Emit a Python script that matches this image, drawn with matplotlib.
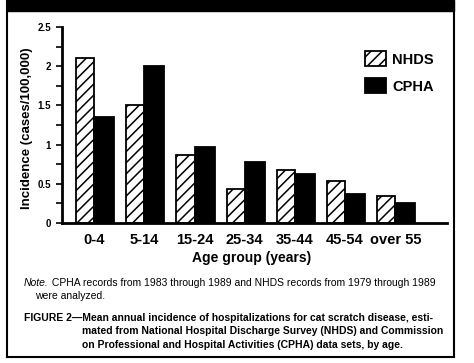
import numpy as np
import matplotlib
matplotlib.use('Agg')
import matplotlib.pyplot as plt
from matplotlib.patches import Rectangle
from matplotlib.lines import Line2D

################# DATOS ############################

grupos_edad = ['0-4', '5-14', '15-24', '25-34', '35-44', '45-54', 'over 55']
nhds = [2.10, 1.50, 0.87, 0.44, 0.67, 0.53, 0.34]
cpha = [1.35, 2.00, 0.97, 0.78, 0.63, 0.37, 0.25]
ticks_y = [0, 0.5, 1, 1.5, 2, 2.5]
etiquetas_y = ['0', '0.5', '1', '1.5', '2', '2.5']

plt.rcParams['font.family'] = ['Liberation Sans', 'DejaVu Sans']
plt.rcParams['hatch.linewidth'] = 1.1

W, H = 474, 363
fig = plt.figure(figsize=(W / 100, H / 100), dpi=100)

def fx(px):
    return px / W

def fy(py):
    return 1 - py / H

ax = fig.add_axes([fx(62), fy(223), fx(447) - fx(62), fy(27) - fy(223)])

x = np.arange(len(grupos_edad))
ax.bar(x, nhds, width=-0.36, align='edge', color='white', edgecolor='black',
       hatch='///', linewidth=1.3, label='NHDS')
ax.bar(x, cpha, width=0.40, align='edge', color='black', edgecolor='black',
       linewidth=1.3, label='CPHA')

ax.set_xlim(-0.64, 7.03)
ax.set_ylim(0, 2.5)
for s in ['top', 'right']:
    ax.spines[s].set_visible(False)
ax.spines['left'].set_linewidth(2)
ax.spines['bottom'].set_linewidth(2)

ax.set_xticks(x)
ax.set_xticklabels(grupos_edad, fontsize=10.5, fontweight='bold')
ax.tick_params(axis='x', length=0, pad=7)
ax.set_yticks(ticks_y)
ax.set_yticklabels(etiquetas_y, fontsize=7, fontweight='bold')
ax.set_yticks(np.arange(0.25, 2.5, 0.5), minor=True)
ax.tick_params(axis='y', which='both', direction='out', length=4, width=1.2, pad=4)

ax.set_ylabel('Incidence (cases/100,000)', fontsize=9.5, fontweight='bold')
ax.yaxis.set_label_coords(-0.075, 0.485)
fig.text(fx(252), fy(258), 'Age group (years)', fontsize=10, fontweight='bold',
         ha='center', va='center')

ley = fig.legend(loc='upper left', bbox_to_anchor=(fx(352), fy(38)), frameon=False,
                 prop={'weight': 'bold', 'size': 10.5}, handlelength=1.4,
                 handleheight=1.2, labelspacing=0.8, handletextpad=0.45)

# nota y leyenda de la figura
fig.canvas.draw()
t_nota = fig.text(fx(24), fy(283), 'Note.', fontsize=7.5, style='italic', va='center')
bb = t_nota.get_window_extent(fig.canvas.get_renderer())
fig.text(bb.x1 / W, fy(283),
         ' CPHA records from 1983 through 1989 and NHDS records from 1979 through 1989',
         fontsize=7.5, va='center')
fig.text(fx(35), fy(296), 'were analyzed.', fontsize=7.5, va='center')

fig.text(fx(24), fy(318),
         'FIGURE 2\u2014Mean annual incidence of hospitalizations for cat scratch disease, esti-',
         fontsize=7.5, fontweight='bold', va='center')
fig.text(fx(82), fy(331.5),
         'mated from National Hospital Discharge Survey (NHDS) and Commission',
         fontsize=7.5, fontweight='bold', va='center')
fig.text(fx(82), fy(345),
         'on Professional and Hospital Activities (CPHA) data sets, by age.',
         fontsize=7.5, fontweight='bold', va='center')

# marco
fig.patches.append(Rectangle((fx(7), fy(11)), fx(454) - fx(7), fy(0) - fy(11),
                             transform=fig.transFigure, color='black', zorder=0))
for xs, ys in [([7, 7], [0, 357]), ([454, 454], [0, 357]), ([7, 454], [357, 357])]:
    fig.lines.append(Line2D([fx(v) for v in xs], [fy(v) for v in ys],
                            transform=fig.transFigure, color='black', linewidth=1.5))

fig.savefig('out.png', dpi=100)
